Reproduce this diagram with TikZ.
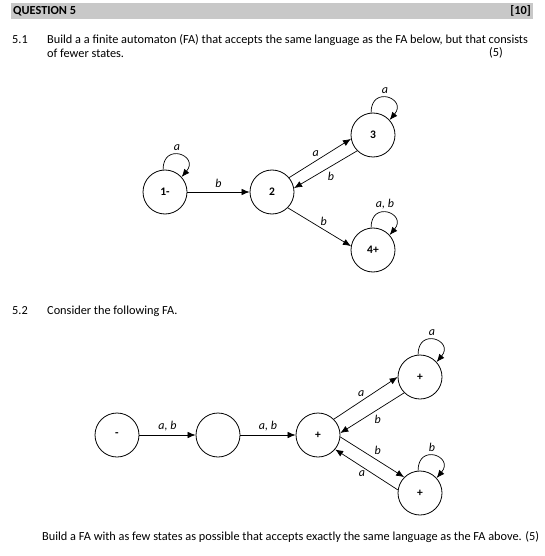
\documentclass[tikz,border=0pt]{standalone}
\usepackage{fontspec}
\setmainfont{Carlito}
\usetikzlibrary{arrows.meta}
\definecolor{hdr}{RGB}{200,200,200}
\begin{document}
\begin{tikzpicture}[x=1pt,y=-1pt,
  state/.style={draw,circle,line width=0.8pt,minimum size=44pt,inner sep=0pt,font=\fontsize{11.5}{13}\selectfont\bfseries},
  arr/.style={-{Latex[length=8pt,width=6.5pt]},line width=0.7pt},
  lbl/.style={font=\fontsize{12}{13}\selectfont\itshape,inner sep=1pt},
  body/.style={anchor=west,inner sep=0pt,font=\fontsize{12.3}{14}\selectfont},
  loopst/.style={out=90,in=50,distance=28pt},
  looplbl/.style={lbl,above=2pt,pos=0.45}]
\useasboundingbox (0,0) rectangle (544,556);
\fill[hdr] (11,3) rectangle (533,19);
\node[body,font=\fontsize{12.3}{14}\selectfont\bfseries] (q) at (13,11) {QUESTION 5};
\node[body,anchor=east,font=\fontsize{12.3}{14}\selectfont\bfseries] (tot) at (531,11) {[10]};
\node[body] (n51) at (12,40) {5.1};
\node[body] (t51a) at (47,40) {Build a a finite automaton (FA) that accepts the same language as the FA below, but that consists};
\node[body] (t51b) at (47,53) {of fewer states.};
\node[body] (m51) at (489,53) {(5)};
% diagram 1
\node[state] (s1) at (165,192) {1-};
\node[state] (s2) at (272,192) {2};
\node[state] (s3) at (373,135) {3};
\node[state] (s4) at (373,250) {4+};
\draw[arr] (s1) -- node[lbl,above=3pt] {b} (s2);
\draw[arr] (s2.40) -- node[lbl,above left=0pt] {a} (s3.190);
\draw[arr] (s3.225) -- node[lbl,below right=1pt] {b} (s2.10);
\draw[arr] (s2.-45) -- node[lbl,above right=0pt] {b} (s4.170);
\draw[arr] (s1.95) to[loopst] node[looplbl] {a} (s1.42);
\draw[arr] (s3.95) to[loopst] node[looplbl] {a} (s3.42);
\draw[arr] (s4.95) to[loopst] node[looplbl] {a, b} (s4.42);
% 5.2
\node[body] (n52) at (12,311) {5.2};
\node[body] (t52) at (47,311) {Consider the following FA.};
\node[state] (p1) at (117,435) {-};
\node[state] (p2) at (218,435) {};
\node[state] (p3) at (318,435) {+};
\node[state] (p4) at (420,377) {+};
\node[state] (p5) at (420,493) {+};
\draw[arr] (p1) -- node[lbl,above=3pt] {a, b} (p2);
\draw[arr] (p2) -- node[lbl,above=3pt] {a, b} (p3);
\draw[arr] (p3.45) -- node[lbl,above left=0pt] {a} (p4.180);
\draw[arr] (p4.225) -- node[lbl,below right=1pt] {b} (p3.5);
\draw[arr] (p3.-5) -- node[lbl,above right=1pt] {b} (p5.135);
\draw[arr] (p5.172) -- node[lbl,below left=0pt] {a} (p3.-40);
\draw[arr] (p4.95) to[loopst] node[looplbl] {a} (p4.42);
\draw[arr] (p5.95) to[loopst] node[looplbl] {b} (p5.42);
\node[body] (t52b) at (42,537) {Build a FA with as few states as possible that accepts exactly the same language as the FA above. (5)};
\end{tikzpicture}
\end{document}
